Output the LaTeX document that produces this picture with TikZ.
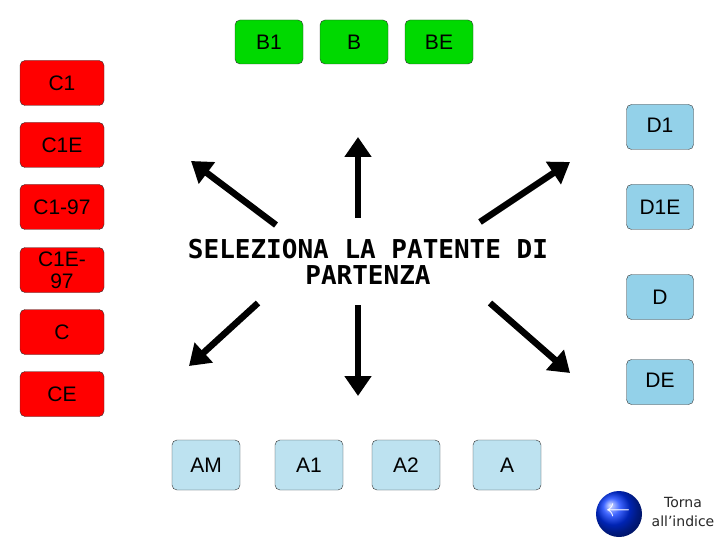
\documentclass[tikz,border=0pt]{standalone}
\usepackage{fontspec}
\setmainfont{Liberation Sans}
\newfontfamily\mono{DejaVu Sans Mono}
\newfontfamily\dejavu{DejaVu Sans}
\usetikzlibrary{arrows.meta}
\begin{document}
\begin{tikzpicture}[x=1pt,y=-1pt,
  lic/.style={draw=black!80,rounded corners=5pt,minimum width=#1,font=\fontsize{21}{21}\selectfont,inner sep=0pt},
  red/.style={lic=84pt,fill=red,minimum height=45pt},
  grn/.style={lic=68pt,fill=green!85!black,minimum height=44pt},
  dbox/.style={lic=67pt,fill=cyan!45!white!85!gray,minimum height=45pt},
  abox/.style={lic=68pt,fill=cyan!25!white!90!gray,minimum height=50pt},
  arr/.style={line width=6.5pt,-{Triangle[length=20pt,width=26pt]}}]
\useasboundingbox (0,0) rectangle (720,540);
\node[grn] (b1) at (269,42) {B1};
\node[grn] (b) at (354,42) {B};
\node[grn] (be) at (439,42) {BE};
\node[red] (c1) at (62,83) {C1};
\node[red] (c1e) at (62,145) {\raisebox{-4pt}{C1E}};
\node[red] (c197) at (62,207) {C1-97};
\node[red,align=center,font=\fontsize{21}{22}\selectfont] (c1e97) at (62,270) {C1E-\\97};
\node[red] (c) at (62,332) {\raisebox{-4pt}{C}};
\node[red] (ce) at (62,394) {\raisebox{-4pt}{CE}};
\node[dbox] (d1) at (660,127) {\raisebox{4pt}{D1}};
\node[dbox] (d1e) at (660,207) {D1E};
\node[dbox] (d) at (660,297) {D};
\node[dbox] (de) at (660,382) {\raisebox{4pt}{DE}};
\node[abox] (am) at (206,465) {AM};
\node[abox] (a1) at (309,465) {A1};
\node[abox] (a2) at (406,465) {A2};
\node[abox] (a) at (507,465) {A};
\node[font=\mono\bfseries\fontsize{26}{26}\selectfont,align=center] (t) at (368,262) {SELEZIONA LA PATENTE DI\\PARTENZA};
\coordinate (u0) at (358,218); \coordinate (u1) at (358,137);
\coordinate (ul0) at (276,225); \coordinate (ul1) at (191,161);
\coordinate (ur0) at (480,222); \coordinate (ur1) at (570,162);
\coordinate (d0) at (358,305); \coordinate (dd1) at (358,396);
\coordinate (dl0) at (258,303); \coordinate (dl1) at (189,366);
\coordinate (dr0) at (490,303); \coordinate (dr1) at (570,373);
\draw[arr] (u0) -- (u1);
\draw[arr] (ul0) -- (ul1);
\draw[arr] (ur0) -- (ur1);
\draw[arr] (d0) -- (dd1);
\draw[arr] (dl0) -- (dl1);
\draw[arr] (dr0) -- (dr1);
\shade[ball color=blue!80!cyan] (619,514) circle (23pt);
\node[white,font=\bfseries\fontsize{26}{26}\selectfont] (ic) at (618,512) {$\leftarrow$};
\node[font=\dejavu\fontsize{14}{19}\selectfont,align=center,text=black!85] (tor) at (683,512) {Torna\\all’indice};
\end{tikzpicture}
\end{document}
